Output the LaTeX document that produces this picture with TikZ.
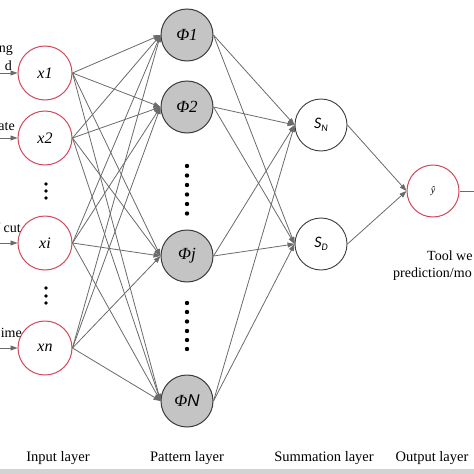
\documentclass[tikz,border=0pt]{standalone}
\usepackage{fontspec}
\setmainfont{Liberation Serif}
\newfontfamily\calib{Carlito}
\usetikzlibrary{arrows.meta}
\definecolor{edgegray}{HTML}{6A6A6A}
\definecolor{inred}{HTML}{D4475A}
\definecolor{patfill}{HTML}{C4C4C4}
\definecolor{darkline}{HTML}{3C3C3C}
\definecolor{barcol}{HTML}{D3D3D3}
\begin{document}
\begin{tikzpicture}[x=1pt,y=-1pt,
  innode/.style={circle,draw=inred,line width=1pt,fill=white,minimum size=54pt,inner sep=0pt,font=\fontsize{16}{16}\selectfont\itshape},
  patnode/.style={circle,draw=darkline,line width=1pt,fill=patfill,minimum size=52pt,inner sep=0pt,font=\fontsize{17}{17}\selectfont\itshape},
  sumnode/.style={circle,draw=darkline,line width=0.9pt,fill=white,minimum size=52pt,inner sep=0pt,font=\fontsize{16}{16}\selectfont\calib\itshape},
  outnode/.style={circle,draw=inred,line width=1pt,fill=white,minimum size=52pt,inner sep=0pt,font=\fontsize{10}{10}\selectfont\itshape},
  conn/.style={draw=edgegray,line width=0.8pt,-{Triangle[length=7pt,width=5pt]}},
  plainconn/.style={draw=edgegray,line width=0.8pt},
  sidelabel/.style={inner sep=0pt,font=\fontsize{14}{14}\selectfont},
  layerlabel/.style={inner sep=0pt,anchor=base,font=\fontsize{14.5}{14.5}\selectfont},
  vdot/.style={fill=black,circle,inner sep=0pt,minimum size=3.8pt},
  pdot/.style={fill=black,circle,inner sep=0pt,minimum size=4.4pt}
]
\useasboundingbox (0,0) rectangle (474,474);
\clip (0,0) rectangle (474,474);
\fill[barcol] (0,469) rectangle (474,474);

% input layer
\node[innode] (x1) at (45,73) {x1};
\node[innode] (x2) at (45,138) {x2};
\node[innode] (xi) at (45,243) {xi};
\node[innode] (xn) at (45,348) {xn};

% pattern layer
\node[patnode] (p1) at (187,35) {Φ1};
\node[patnode] (p2) at (187,107) {Φ2};
\node[patnode] (pj) at (187,256) {Φj};
\node[patnode] (pN) at (187,401) {Φ{\fontspec{Liberation Sans}\itshape N}};

% summation layer
\node[sumnode] (sn) at (321,125) {S\raisebox{-3pt}{\fontsize{10}{10}\selectfont N}};
\node[sumnode] (sd) at (321,244) {S\raisebox{-3pt}{\fontsize{10}{10}\selectfont D}};

% output layer
\node[outnode] (y) at (433,191) {ŷ};
\coordinate (yout) at (474,191);

% input arrows
\coordinate (i1) at (0,73);
\coordinate (i2) at (0,138);
\coordinate (i3) at (0,243);
\coordinate (i4) at (0,348);
\draw[conn] (i1) -- (x1.west);
\draw[conn] (i2) -- (x2.west);
\draw[conn] (i3) -- (xi.west);
\draw[conn] (i4) -- (xn.west);

% side labels
\node[sidelabel,anchor=base east] (l1a) at (13,52) {ng};
\node[sidelabel,anchor=base east] (l1b) at (12,70) {d};
\node[sidelabel,anchor=base east] (l2) at (15,130) {ate};
\node[sidelabel,anchor=base east] (l3) at (21,232) {f cut};
\node[sidelabel,anchor=base east] (l4) at (22,337) {ime};
\node[sidelabel,anchor=base west] (r1) at (427,260) {Tool we};
\node[sidelabel,anchor=base west] (r2) at (393,277) {prediction/mo};

% connections input -> pattern
\foreach \a in {x1,x2,xi,xn}{
  \foreach \b in {p1,p2,pj,pN}{
    \draw[conn] (\a.east) -- (\b.west);
  }
}
% pattern -> summation
\foreach \b in {p1,p2,pj,pN}{
  \draw[conn] (\b.east) -- (sn.west);
  \draw[conn] (\b.east) -- (sd.west);
}
\draw[conn] (sn.east) -- (y.west);
\draw[conn] (sd.east) -- (y.west);
\draw[plainconn] (y.east) -- (yout);

% dots
\foreach \yy in {184,191,198,288,296,303}{
  \node[vdot] at (46,\yy) {};
}
\foreach \yy in {166,175.5,185,194.5,204,213.5,303,312,321.5,331,340,349}{
  \node[pdot] at (187,\yy) {};
}

% layer labels
\node[layerlabel] (L1) at (58,461) {Input layer};
\node[layerlabel] (L2) at (187,461) {Pattern layer};
\node[layerlabel] (L3) at (324,461) {Summation layer};
\node[layerlabel] (L4) at (432,461) {Output layer};
\end{tikzpicture}
\end{document}
